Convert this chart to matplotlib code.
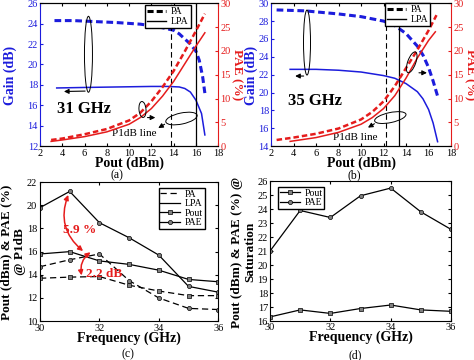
import numpy as np
import matplotlib.pyplot as plt
from matplotlib.patches import Ellipse
from matplotlib.lines import Line2D
from matplotlib.transforms import ScaledTranslation

plt.rcParams['font.family'] = ['Liberation Serif', 'DejaVu Serif']
plt.rcParams['font.size'] = 7.5
plt.rcParams['xtick.direction'] = 'in'
plt.rcParams['ytick.direction'] = 'in'
plt.rcParams['xtick.major.size'] = 2.5
plt.rcParams['ytick.major.size'] = 2.5
plt.rcParams['axes.linewidth'] = 0.8

BLUE = '#1c1cdc'
RED = '#e51c1c'

# ---- (a) 31 GHz ----
a_pa_gain_x = [3.3, 5, 7, 9, 11, 12, 13, 14, 14.5, 15, 15.5, 16, 16.3, 16.6, 16.8]
a_pa_gain_y = [24.3, 24.3, 24.2, 24.1, 23.95, 23.8, 23.6, 23.35, 23.0, 22.5, 22.0, 21.3, 20.4, 18.8, 17.2]
a_lpa_gain_x = [3.5, 6, 9, 12, 13.5, 14.5, 15, 15.5, 16, 16.5, 16.8]
a_lpa_gain_y = [17.7, 17.75, 17.8, 17.85, 17.85, 17.8, 17.65, 17.3, 16.5, 15.2, 13.1]
a_pa_pae_x = [3, 4, 6, 8, 10, 11, 12, 13, 14, 15, 16, 16.8]
a_pa_pae_y = [1.3, 1.6, 2.5, 3.6, 5.4, 7.0, 9.4, 12.4, 15.8, 19.9, 24.2, 27.8]
a_lpa_pae_x = [3, 4, 6, 8, 10, 11, 12, 13, 14, 15, 16, 16.8]
a_lpa_pae_y = [1.0, 1.3, 2.0, 3.0, 4.6, 6.0, 7.9, 10.5, 13.6, 17.3, 21.0, 23.8]
a_p1db_pa, a_p1db_lpa = 13.8, 16.0

# ---- (b) 35 GHz ----
b_pa_gain_x = [2.5, 5, 8, 10, 12, 13, 14, 15, 15.5, 16, 16.4, 16.8]
b_pa_gain_y = [29.25, 29.15, 28.8, 28.5, 28.0, 27.5, 26.6, 25.2, 24.2, 22.8, 21.3, 19.6]
b_lpa_gain_x = [3.7, 6, 8, 10, 12, 13, 14, 15, 15.5, 16, 16.4, 16.8]
b_lpa_gain_y = [22.6, 22.6, 22.5, 22.3, 21.9, 21.6, 21.0, 20.1, 19.3, 18.1, 16.6, 14.5]
b_pa_pae_x = [2.5, 4, 6, 8, 10, 11, 12, 13, 14, 15, 16, 16.7]
b_pa_pae_y = [1.3, 1.8, 2.6, 3.7, 5.6, 7.2, 9.4, 12.6, 16.4, 20.2, 24.3, 27.5]
b_lpa_pae_x = [3.7, 6, 8, 10, 11, 12, 13, 14, 15, 16, 16.6]
b_lpa_pae_y = [1.0, 1.8, 2.9, 4.6, 6.0, 7.9, 10.6, 14.3, 18.5, 22.2, 24.0]
b_p1db_pa, b_p1db_lpa = 12.2, 13.4

# ---- (c) @ P1dB ----
freq = [30, 31, 32, 33, 34, 35, 36]
c_lpa_pout = [15.8, 16.0, 15.2, 14.9, 14.4, 13.6, 13.4]
c_lpa_pae = [19.8, 21.2, 18.5, 17.2, 15.7, 13.0, 12.5]
c_pa_pout = [13.7, 13.8, 13.85, 13.1, 12.6, 12.2, 12.2]
c_pa_pae = [14.7, 15.3, 15.8, 13.5, 12.0, 11.1, 11.0]

# ---- (d) @ saturation ----
d_pout = [16.3, 16.8, 16.55, 16.9, 17.15, 16.8, 16.7]
d_pae = [21.0, 23.9, 23.4, 24.95, 25.5, 23.8, 22.55]

W, H = 474, 360
fig = plt.figure(figsize=(4.74, 3.6), dpi=100)


def ftext(px, py, s, **kw):
    # place text by pixel position (from top-left)
    fig.text(px / W, 1 - py / H, s, ha='center', va='center', **kw)


def ellipse(ax, x, y, w, h, ang=0):
    tr = fig.dpi_scale_trans + ScaledTranslation(x, y, ax.transData)
    ax.add_patch(Ellipse((0, 0), w, h, angle=ang, fill=False, ec='black',
                         lw=0.7, transform=tr, clip_on=False, zorder=6))


def arrow(ax, x0, y0, x1, y1):
    ax.annotate('', xy=(x1, y1), xytext=(x0, y0),
                arrowprops=dict(arrowstyle='-|>', color='black', lw=0.8,
                                mutation_scale=7), zorder=6)


def gain_panel(rect, leg, ghz_pos, glim, gticks, pa_g, lpa_g, pa_p, lpa_p, p1_pa, p1_lpa, ghz):
    ax = fig.add_axes(rect)
    ax2 = ax.twinx()
    ax.plot(pa_g[0], pa_g[1], color=BLUE, lw=2.2, ls=(0, (2.2, 1.2)))
    ax.plot(lpa_g[0], lpa_g[1], color=BLUE, lw=1.1)
    ax2.plot(pa_p[0], pa_p[1], color=RED, lw=1.8, ls=(0, (2.2, 1.2)))
    ax2.plot(lpa_p[0], lpa_p[1], color=RED, lw=1.1)
    ax.set_xlim(2, 18)
    ax.set_xticks(np.arange(2, 19, 2))
    ax.set_ylim(*glim)
    ax.set_yticks(gticks)
    ax2.set_ylim(0, 30)
    ax2.set_yticks(np.arange(0, 31, 5))
    ax.axvline(p1_pa, color='black', lw=0.8, ls=(0, (5, 3)))
    ax.axvline(p1_lpa, color='black', lw=0.9)
    ax.tick_params(axis='y', colors=BLUE, labelsize=7.5, pad=1.5)
    ax.tick_params(axis='x', top=True, labelsize=7.5, pad=2)
    ax2.tick_params(axis='y', colors=RED, labelsize=7.5, pad=1.5)
    ax.spines['left'].set_color(BLUE)
    ax.spines['right'].set_visible(False)
    ax2.spines['left'].set_visible(False)
    ax2.spines['right'].set_color(RED)
    ax.set_xlabel('Pout (dBm)', fontsize=10, fontweight='bold', labelpad=-1)
    h = [Line2D([], [], color='black', lw=2.2, ls=(0, (2, 1))),
         Line2D([], [], color='black', lw=1.0)]
    ax2.legend(h, ['PA', 'LPA'], loc='upper right', bbox_to_anchor=leg,
               fontsize=7, fancybox=False, edgecolor='black', framealpha=1,
               handlelength=2.0, borderpad=0.2, labelspacing=0.1,
               handletextpad=0.5, borderaxespad=0)
    ax.text(ghz_pos[0], ghz_pos[1], ghz, fontsize=12, fontweight='bold',
            ha='center', va='center')
    return ax, ax2


ax_a, ax_a2 = gain_panel([0.0844, 0.594, 0.376, 0.397], (0.845, 0.985), (5.9, 15.6),
                         (12, 26), np.arange(12, 27, 2),
                         (a_pa_gain_x, a_pa_gain_y), (a_lpa_gain_x, a_lpa_gain_y),
                         (a_pa_pae_x, a_pa_pae_y), (a_lpa_pae_x, a_lpa_pae_y),
                         a_p1db_pa, a_p1db_lpa, '31 GHz')
ax_a.text(10.5, 13.2, 'P1dB line', fontsize=8, ha='center', va='center')
ellipse(ax_a, 6.35, 21.0, 0.08, 0.76)
arrow(ax_a, 6.3, 17.4, 3.9, 17.35)
ellipse(ax_a2, 11.2, 7.7, 0.07, 0.16, 5)
arrow(ax_a2, 11.4, 6.0, 12.6, 6.0)
ellipse(ax_a2, 14.7, 5.8, 0.32, 0.11, 12)
arrow(ax_a2, 13.4, 4.9, 12.4, 3.5)
ftext(10, 75, 'Gain (dB)', fontsize=10, fontweight='bold', color=BLUE, rotation=90)
ftext(237, 75, 'PAE (%)', fontsize=9.5, fontweight='bold', color=RED, rotation=270)
ftext(117, 175, '(a)', fontsize=8.5)

ax_b, ax_b2 = gain_panel([0.5717, 0.594, 0.380, 0.397], (0.885, 1.0), (5.9, 19.1),
                         (14, 30), np.arange(14, 31, 2),
                         (b_pa_gain_x, b_pa_gain_y), (b_lpa_gain_x, b_lpa_gain_y),
                         (b_pa_pae_x, b_pa_pae_y), (b_lpa_pae_x, b_lpa_pae_y),
                         b_p1db_pa, b_p1db_lpa, '35 GHz')
ax_b.text(9.5, 15.0, 'P1dB line', fontsize=8, ha='center', va='center')
ellipse(ax_b, 5.2, 25.6, 0.07, 0.65)
arrow(ax_b, 5.15, 21.85, 3.9, 21.85)
ellipse(ax_b2, 14.5, 17.6, 0.08, 0.22, -20)
arrow(ax_b2, 14.9, 15.4, 16.1, 15.4)
ellipse(ax_b2, 12.6, 6.0, 0.32, 0.10, 12)
arrow(ax_b2, 11.4, 5.0, 10.4, 3.6)
ftext(251, 75, 'Gain (dB)', fontsize=10, fontweight='bold', color=BLUE, rotation=90)
ftext(469.5, 75, 'PAE (%)', fontsize=9.5, fontweight='bold', color=RED, rotation=270)
ftext(354, 175, '(b)', fontsize=8.5)

# ---- (c) ----
ax_c = fig.add_axes([0.0844, 0.108, 0.376, 0.386])
mk = dict(ms=3, mfc='#808080', mec='black', mew=0.5)
ax_c.plot(freq, c_lpa_pout, color='black', lw=0.9, marker='s', **mk)
ax_c.plot(freq, c_lpa_pae, color='black', lw=0.9, marker='o', **mk)
ax_c.plot(freq, c_pa_pout, color='black', lw=0.9, ls=(0, (5, 3)), marker='s', **mk)
ax_c.plot(freq, c_pa_pae, color='black', lw=0.9, ls=(0, (5, 3)), marker='o', **mk)
ax_c.set_xlim(30, 36)
ax_c.set_ylim(10, 22)
ax_c.set_yticks(np.arange(10, 23, 2))
ax_c.tick_params(top=True, right=True, labelsize=7.5, pad=2)
ax_c.set_xlabel('Frequency (GHz)', fontsize=10, fontweight='bold', labelpad=-1)
hc = [Line2D([], [], color='black', lw=0.9, ls=(0, (5, 3))),
      Line2D([], [], color='black', lw=0.9),
      Line2D([], [], color='black', lw=0.9, marker='s', **mk),
      Line2D([], [], color='black', lw=0.9, marker='o', **mk)]
ax_c.legend(hc, ['PA', 'LPA', 'Pout', 'PAE'], loc='upper right',
            bbox_to_anchor=(0.925, 0.96), fontsize=7, fancybox=False,
            edgecolor='black', framealpha=1, handlelength=2.0, borderpad=0.2,
            labelspacing=0.05, handletextpad=0.5, borderaxespad=0)
ax_c.text(31.35, 17.9, '5.9 %', color=RED, fontsize=9.5, fontweight='bold',
          ha='center', va='center')
ax_c.text(32.15, 14.1, '2.2 dB', color=RED, fontsize=9.5, fontweight='bold',
          ha='center', va='center')
ax_c.annotate('', xy=(31.45, 16.05), xytext=(30.95, 20.9),
              arrowprops=dict(arrowstyle='<|-|>', color=RED, lw=1.1,
                              mutation_scale=7, connectionstyle='arc3,rad=0.35',
                              shrinkA=0, shrinkB=0))
ax_c.annotate('', xy=(31.4, 13.95), xytext=(31.7, 15.95),
              arrowprops=dict(arrowstyle='<|-|>', color=RED, lw=1.1,
                              mutation_scale=7, connectionstyle='arc3,rad=0.3',
                              shrinkA=0, shrinkB=0))
ftext(13, 252, 'Pout (dBm) & PAE (%)\n@ P1dB', fontsize=9.5, fontweight='bold',
      rotation=90, linespacing=1.15, multialignment='center')
ftext(128, 354, '(c)', fontsize=8.5)

# ---- (d) ----
ax_d = fig.add_axes([0.5696, 0.108, 0.382, 0.389])
ax_d.plot(freq, d_pout, color='black', lw=0.9, marker='s', **mk)
ax_d.plot(freq, d_pae, color='black', lw=0.9, marker='o', **mk)
ax_d.set_xlim(30, 36)
ax_d.set_ylim(16, 26)
ax_d.set_yticks(np.arange(16, 27, 1))
ax_d.tick_params(top=True, right=True, labelsize=7.5, pad=1.5)
ax_d.set_xlabel('Frequency (GHz)', fontsize=10, fontweight='bold', labelpad=-1)
hd = [Line2D([], [], color='black', lw=0.9, marker='s', **mk),
      Line2D([], [], color='black', lw=0.9, marker='o', **mk)]
ax_d.legend(hd, ['Pout', 'PAE'], loc='upper left', bbox_to_anchor=(0.045, 0.96),
            fontsize=7, fancybox=False, edgecolor='black', framealpha=1,
            handlelength=2.0, borderpad=0.2, labelspacing=0.05,
            handletextpad=0.5, borderaxespad=0)
ftext(244, 252, 'Pout (dBm) & PAE (%) @\nSaturation', fontsize=9.5, fontweight='bold',
      rotation=90, linespacing=1.15, multialignment='center')
ftext(355, 355, '(d)', fontsize=8.5)

fig.savefig('out.png', dpi=100)
